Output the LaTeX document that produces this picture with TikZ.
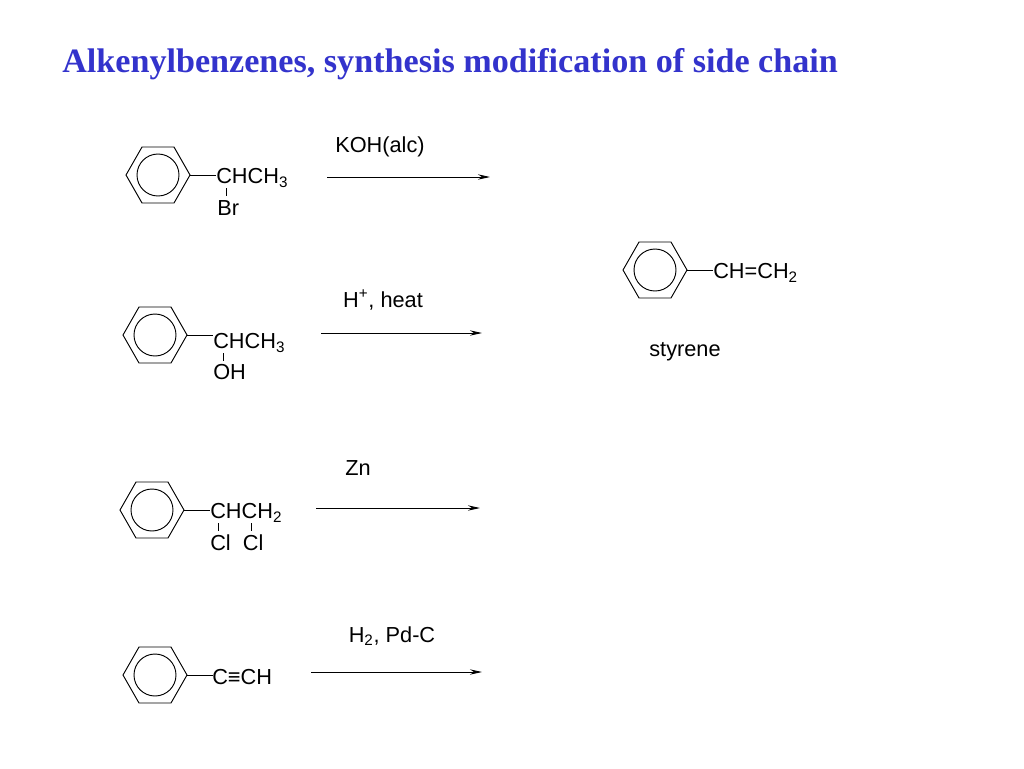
\documentclass[tikz,border=0pt]{standalone}
\usepackage{fontspec}
\setmainfont{Liberation Sans}
\newfontfamily\titlefont{Liberation Serif}
\usetikzlibrary{arrows.meta}
\definecolor{tblue}{RGB}{51,51,204}
\begin{document}
\begin{tikzpicture}[x=0.75pt,y=-0.75pt,
  lbl/.style={inner sep=0pt,font=\fontsize{16.3}{19}\selectfont},
  rxn/.style={-{Stealth[length=9pt,width=4pt]},line width=0.7pt},
  bnd/.style={line width=0.7pt}]
\useasboundingbox (0,0) rectangle (1024,768);
\node[anchor=base west,inner sep=0pt,text=tblue,font=\titlefont\bfseries\fontsize{25.6}{30}\selectfont] (title) at (62,72) {Alkenylbenzenes, synthesis modification of side chain};
\newcommand{\benz}[2]{%
  \draw[bnd] (#1+32,#2) -- (#1+16,#2-28) -- (#1-16,#2-28) -- (#1-32,#2) -- (#1-16,#2+28) -- (#1+16,#2+28) -- cycle;
  \draw[bnd] (#1,#2) circle[radius=21];
  \draw[bnd] (#1+32,#2) -- (#1+58,#2);}
% 1
\benz{158}{175}
\node[lbl,anchor=west] (a1) at (216,178) {CHCH\textsubscript{3}};
\draw[bnd] (226,188) -- (226,196);
\node[lbl,anchor=west] (b1) at (217,208) {Br};
\node[lbl] (k1) at (380,147) {KOH(alc)};
\coordinate (s1) at (327,177); \coordinate (e1) at (490,177);
\draw[rxn] (s1) -- (e1);
% 2
\benz{155}{335}
\node[lbl,anchor=west] (a2) at (213,343) {CHCH\textsubscript{3}};
\draw[bnd] (223,353) -- (223,361);
\node[lbl,anchor=west] (b2) at (213,372) {OH};
\node[lbl] (k2) at (383,300) {H\textsuperscript{+}, heat};
\coordinate (s2) at (321,333); \coordinate (e2) at (482,333);
\draw[rxn] (s2) -- (e2);
% 3
\benz{152}{510}
\node[lbl,anchor=west] (a3) at (210,513) {CHCH\textsubscript{2}};
\draw[bnd] (218,523) -- (218,531); \draw[bnd] (251,523) -- (251,531);
\node[lbl,anchor=west] (b3) at (210,543) {Cl\ \ Cl};
\node[lbl] (k3) at (358,468) {Zn};
\coordinate (s3) at (316,508); \coordinate (e3) at (480,508);
\draw[rxn] (s3) -- (e3);
% 4
\benz{155}{675}
\node[lbl,anchor=west] (a4) at (212,677) {C≡CH};
\node[lbl] (k4) at (392,636) {H\textsubscript{2}, Pd-C};
\coordinate (s4) at (311,672); \coordinate (e4) at (482,672);
\draw[rxn] (s4) -- (e4);
% styrene
\benz{655}{270}
\node[lbl,anchor=west] (p) at (713,273) {CH=CH\textsubscript{2}};
\node[lbl] (sty) at (685,352) {styrene};
\end{tikzpicture}
\end{document}
